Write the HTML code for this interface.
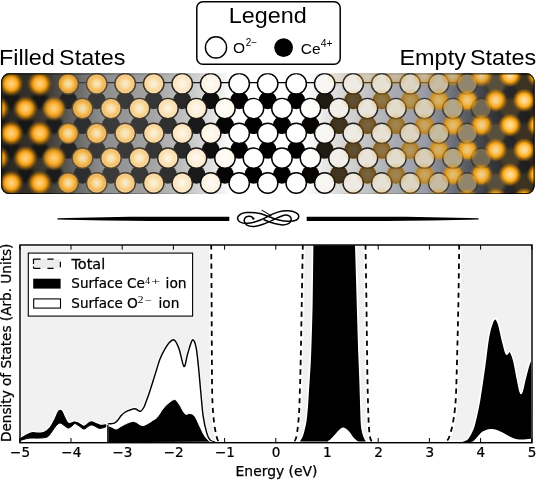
<!DOCTYPE html>
<html><head><meta charset="utf-8"><style>
html,body{margin:0;padding:0;background:#fff;width:536px;height:480px;overflow:hidden}
svg{display:block}
.mpl{font-family:"DejaVu Sans",sans-serif;fill:#000;stroke:#000;stroke-width:0.25px}
.mps{font-family:"Liberation Serif",serif;fill:#000}
.hl{font-family:"Liberation Sans",Arial,sans-serif;fill:#000}
</style></head><body>
<svg width="536" height="480" viewBox="0 0 536 480">
<defs>
<linearGradient id="gapG" x1="0" y1="0" x2="536" y2="0" gradientUnits="userSpaceOnUse"><stop offset="0.0000" stop-color="#2a2824"/><stop offset="0.0560" stop-color="#33302a"/><stop offset="0.0933" stop-color="#423f38"/><stop offset="0.1269" stop-color="#5a5a58"/><stop offset="0.1866" stop-color="#8c8c8c"/><stop offset="0.2799" stop-color="#a2a2a2"/><stop offset="0.3358" stop-color="#bdbdbd"/><stop offset="0.3825" stop-color="#d8d8d8"/><stop offset="0.4328" stop-color="#ffffff"/><stop offset="0.5690" stop-color="#ffffff"/><stop offset="0.6157" stop-color="#e2e2e2"/><stop offset="0.6716" stop-color="#cacaca"/><stop offset="0.7369" stop-color="#a9abb2"/><stop offset="0.7929" stop-color="#999ca6"/><stop offset="0.8396" stop-color="#72757e"/><stop offset="0.8955" stop-color="#44464c"/><stop offset="0.9422" stop-color="#2a2a2e"/><stop offset="1.0000" stop-color="#1a1a1a"/></linearGradient>
<filter id="b6" x="-50%" y="-50%" width="200%" height="200%"><feGaussianBlur stdDeviation="0.6"/></filter><filter id="b12" x="-50%" y="-50%" width="200%" height="200%"><feGaussianBlur stdDeviation="1.2"/></filter><filter id="b18" x="-50%" y="-50%" width="200%" height="200%"><feGaussianBlur stdDeviation="1.8"/></filter><filter id="b24" x="-50%" y="-50%" width="200%" height="200%"><feGaussianBlur stdDeviation="2.4"/></filter>
<radialGradient id="glowO"><stop offset="0" stop-color="#ffecc0"/><stop offset="0.35" stop-color="#ffd070"/><stop offset="0.62" stop-color="#ffa818"/><stop offset="0.8" stop-color="#e89000" stop-opacity="0.55"/><stop offset="1" stop-color="#c07000" stop-opacity="0"/></radialGradient>
<radialGradient id="glowOL"><stop offset="0" stop-color="#ffdc98"/><stop offset="0.3" stop-color="#ffc050"/><stop offset="0.55" stop-color="#ffa410"/><stop offset="0.75" stop-color="#d88600" stop-opacity="0.6"/><stop offset="1" stop-color="#a06000" stop-opacity="0"/></radialGradient>
<linearGradient id="bordG" x1="0" y1="0" x2="536" y2="0" gradientUnits="userSpaceOnUse"><stop offset="0" stop-color="#000" stop-opacity="0.9"/><stop offset="0.12" stop-color="#000" stop-opacity="0.6"/><stop offset="0.3" stop-color="#000" stop-opacity="0.15"/><stop offset="0.4" stop-color="#000" stop-opacity="0"/><stop offset="0.62" stop-color="#000" stop-opacity="0"/><stop offset="0.8" stop-color="#000" stop-opacity="0.3"/><stop offset="0.92" stop-color="#000" stop-opacity="0.7"/><stop offset="1" stop-color="#000" stop-opacity="0.9"/></linearGradient>
<radialGradient id="glowC"><stop offset="0" stop-color="#ffe2a8"/><stop offset="0.3" stop-color="#ffcf70"/><stop offset="0.55" stop-color="#ffac1c"/><stop offset="0.78" stop-color="#e89400" stop-opacity="0.5"/><stop offset="1" stop-color="#c07000" stop-opacity="0"/></radialGradient>
<clipPath id="axclip"><rect x="20.0" y="245.0" width="512.0" height="197.7"/></clipPath><clipPath id="panel"><rect x="1.2" y="73.3" width="533.4" height="120.7" rx="8" ry="8"/></clipPath>
</defs>
<g clip-path="url(#panel)">
<rect x="0" y="60" width="536" height="140" fill="url(#gapG)"/>
<line x1="-17.30" y1="82.65" x2="11.20" y2="82.65" stroke="#1c1c1c" stroke-width="1.2" filter="url(#b24)"/>
<line x1="11.20" y1="82.65" x2="39.70" y2="82.65" stroke="#222222" stroke-width="1.2" filter="url(#b18)"/>
<line x1="39.70" y1="82.65" x2="68.20" y2="82.65" stroke="#303030" stroke-width="1.2" filter="url(#b12)"/>
<line x1="68.20" y1="82.65" x2="96.70" y2="82.65" stroke="#3a3a3a" stroke-width="1.2"/>
<line x1="96.70" y1="82.65" x2="125.20" y2="82.65" stroke="#363636" stroke-width="1.2"/>
<line x1="125.20" y1="82.65" x2="153.70" y2="82.65" stroke="#2d2d2d" stroke-width="1.2"/>
<line x1="153.70" y1="82.65" x2="182.20" y2="82.65" stroke="#222222" stroke-width="1.2"/>
<line x1="182.20" y1="82.65" x2="210.70" y2="82.65" stroke="#141414" stroke-width="1.2"/>
<line x1="210.70" y1="82.65" x2="239.20" y2="82.65" stroke="#040404" stroke-width="1.2"/>
<line x1="239.20" y1="82.65" x2="267.70" y2="82.65" stroke="#000000" stroke-width="1.2"/>
<line x1="267.70" y1="82.65" x2="296.20" y2="82.65" stroke="#000000" stroke-width="1.2"/>
<line x1="296.20" y1="82.65" x2="324.70" y2="82.65" stroke="#030303" stroke-width="1.2"/>
<line x1="324.70" y1="82.65" x2="353.20" y2="82.65" stroke="#131313" stroke-width="1.2"/>
<line x1="353.20" y1="82.65" x2="381.70" y2="82.65" stroke="#242424" stroke-width="1.2"/>
<line x1="381.70" y1="82.65" x2="410.20" y2="82.65" stroke="#323230" stroke-width="1.2"/>
<line x1="410.20" y1="82.65" x2="438.70" y2="82.65" stroke="#3c3a35" stroke-width="1.2"/>
<line x1="438.70" y1="82.65" x2="467.20" y2="82.65" stroke="#3f3a31" stroke-width="1.2"/>
<line x1="467.20" y1="82.65" x2="495.70" y2="82.65" stroke="#3d362b" stroke-width="1.2" filter="url(#b6)"/>
<line x1="495.70" y1="82.65" x2="524.20" y2="82.65" stroke="#362e22" stroke-width="1.2" filter="url(#b12)"/>
<line x1="524.20" y1="82.65" x2="552.70" y2="82.65" stroke="#2a2418" stroke-width="1.2" filter="url(#b18)"/>
<line x1="552.70" y1="82.65" x2="581.20" y2="82.65" stroke="#2a2418" stroke-width="1.2" filter="url(#b18)"/>
<line x1="-3.05" y1="107.45" x2="25.45" y2="107.45" stroke="#1f1f1f" stroke-width="1.2" filter="url(#b18)"/>
<line x1="25.45" y1="107.45" x2="53.95" y2="107.45" stroke="#262626" stroke-width="1.2" filter="url(#b18)"/>
<line x1="53.95" y1="107.45" x2="82.45" y2="107.45" stroke="#3a3a3a" stroke-width="1.2"/>
<line x1="82.45" y1="107.45" x2="110.95" y2="107.45" stroke="#3a3a3a" stroke-width="1.2"/>
<line x1="110.95" y1="107.45" x2="139.45" y2="107.45" stroke="#323232" stroke-width="1.2"/>
<line x1="139.45" y1="107.45" x2="167.95" y2="107.45" stroke="#282828" stroke-width="1.2"/>
<line x1="167.95" y1="107.45" x2="196.45" y2="107.45" stroke="#1b1b1b" stroke-width="1.2"/>
<line x1="196.45" y1="107.45" x2="224.95" y2="107.45" stroke="#0d0d0d" stroke-width="1.2"/>
<line x1="224.95" y1="107.45" x2="253.45" y2="107.45" stroke="#000000" stroke-width="1.2"/>
<line x1="253.45" y1="107.45" x2="281.95" y2="107.45" stroke="#000000" stroke-width="1.2"/>
<line x1="281.95" y1="107.45" x2="310.45" y2="107.45" stroke="#000000" stroke-width="1.2"/>
<line x1="310.45" y1="107.45" x2="338.95" y2="107.45" stroke="#0b0b0b" stroke-width="1.2"/>
<line x1="338.95" y1="107.45" x2="367.45" y2="107.45" stroke="#1c1c1c" stroke-width="1.2"/>
<line x1="367.45" y1="107.45" x2="395.95" y2="107.45" stroke="#2d2d2c" stroke-width="1.2"/>
<line x1="395.95" y1="107.45" x2="424.45" y2="107.45" stroke="#383734" stroke-width="1.2"/>
<line x1="424.45" y1="107.45" x2="452.95" y2="107.45" stroke="#3e3a33" stroke-width="1.2"/>
<line x1="452.95" y1="107.45" x2="481.45" y2="107.45" stroke="#3f392e" stroke-width="1.2" filter="url(#b6)"/>
<line x1="481.45" y1="107.45" x2="509.95" y2="107.45" stroke="#3b3327" stroke-width="1.2" filter="url(#b12)"/>
<line x1="509.95" y1="107.45" x2="538.45" y2="107.45" stroke="#2f291d" stroke-width="1.2" filter="url(#b18)"/>
<line x1="538.45" y1="107.45" x2="566.95" y2="107.45" stroke="#2a2418" stroke-width="1.2" filter="url(#b18)"/>
<line x1="566.95" y1="107.45" x2="595.45" y2="107.45" stroke="#2a2418" stroke-width="1.2" filter="url(#b18)"/>
<line x1="-17.30" y1="132.25" x2="11.20" y2="132.25" stroke="#1c1c1c" stroke-width="1.2" filter="url(#b24)"/>
<line x1="11.20" y1="132.25" x2="39.70" y2="132.25" stroke="#222222" stroke-width="1.2" filter="url(#b18)"/>
<line x1="39.70" y1="132.25" x2="68.20" y2="132.25" stroke="#303030" stroke-width="1.2" filter="url(#b12)"/>
<line x1="68.20" y1="132.25" x2="96.70" y2="132.25" stroke="#3a3a3a" stroke-width="1.2"/>
<line x1="96.70" y1="132.25" x2="125.20" y2="132.25" stroke="#363636" stroke-width="1.2"/>
<line x1="125.20" y1="132.25" x2="153.70" y2="132.25" stroke="#2d2d2d" stroke-width="1.2"/>
<line x1="153.70" y1="132.25" x2="182.20" y2="132.25" stroke="#222222" stroke-width="1.2"/>
<line x1="182.20" y1="132.25" x2="210.70" y2="132.25" stroke="#141414" stroke-width="1.2"/>
<line x1="210.70" y1="132.25" x2="239.20" y2="132.25" stroke="#040404" stroke-width="1.2"/>
<line x1="239.20" y1="132.25" x2="267.70" y2="132.25" stroke="#000000" stroke-width="1.2"/>
<line x1="267.70" y1="132.25" x2="296.20" y2="132.25" stroke="#000000" stroke-width="1.2"/>
<line x1="296.20" y1="132.25" x2="324.70" y2="132.25" stroke="#030303" stroke-width="1.2"/>
<line x1="324.70" y1="132.25" x2="353.20" y2="132.25" stroke="#131313" stroke-width="1.2"/>
<line x1="353.20" y1="132.25" x2="381.70" y2="132.25" stroke="#242424" stroke-width="1.2"/>
<line x1="381.70" y1="132.25" x2="410.20" y2="132.25" stroke="#323230" stroke-width="1.2"/>
<line x1="410.20" y1="132.25" x2="438.70" y2="132.25" stroke="#3c3a35" stroke-width="1.2"/>
<line x1="438.70" y1="132.25" x2="467.20" y2="132.25" stroke="#3f3a31" stroke-width="1.2"/>
<line x1="467.20" y1="132.25" x2="495.70" y2="132.25" stroke="#3d362b" stroke-width="1.2" filter="url(#b6)"/>
<line x1="495.70" y1="132.25" x2="524.20" y2="132.25" stroke="#362e22" stroke-width="1.2" filter="url(#b12)"/>
<line x1="524.20" y1="132.25" x2="552.70" y2="132.25" stroke="#2a2418" stroke-width="1.2" filter="url(#b18)"/>
<line x1="552.70" y1="132.25" x2="581.20" y2="132.25" stroke="#2a2418" stroke-width="1.2" filter="url(#b18)"/>
<line x1="-3.05" y1="157.05" x2="25.45" y2="157.05" stroke="#1f1f1f" stroke-width="1.2" filter="url(#b18)"/>
<line x1="25.45" y1="157.05" x2="53.95" y2="157.05" stroke="#262626" stroke-width="1.2" filter="url(#b18)"/>
<line x1="53.95" y1="157.05" x2="82.45" y2="157.05" stroke="#3a3a3a" stroke-width="1.2"/>
<line x1="82.45" y1="157.05" x2="110.95" y2="157.05" stroke="#3a3a3a" stroke-width="1.2"/>
<line x1="110.95" y1="157.05" x2="139.45" y2="157.05" stroke="#323232" stroke-width="1.2"/>
<line x1="139.45" y1="157.05" x2="167.95" y2="157.05" stroke="#282828" stroke-width="1.2"/>
<line x1="167.95" y1="157.05" x2="196.45" y2="157.05" stroke="#1b1b1b" stroke-width="1.2"/>
<line x1="196.45" y1="157.05" x2="224.95" y2="157.05" stroke="#0d0d0d" stroke-width="1.2"/>
<line x1="224.95" y1="157.05" x2="253.45" y2="157.05" stroke="#000000" stroke-width="1.2"/>
<line x1="253.45" y1="157.05" x2="281.95" y2="157.05" stroke="#000000" stroke-width="1.2"/>
<line x1="281.95" y1="157.05" x2="310.45" y2="157.05" stroke="#000000" stroke-width="1.2"/>
<line x1="310.45" y1="157.05" x2="338.95" y2="157.05" stroke="#0b0b0b" stroke-width="1.2"/>
<line x1="338.95" y1="157.05" x2="367.45" y2="157.05" stroke="#1c1c1c" stroke-width="1.2"/>
<line x1="367.45" y1="157.05" x2="395.95" y2="157.05" stroke="#2d2d2c" stroke-width="1.2"/>
<line x1="395.95" y1="157.05" x2="424.45" y2="157.05" stroke="#383734" stroke-width="1.2"/>
<line x1="424.45" y1="157.05" x2="452.95" y2="157.05" stroke="#3e3a33" stroke-width="1.2"/>
<line x1="452.95" y1="157.05" x2="481.45" y2="157.05" stroke="#3f392e" stroke-width="1.2" filter="url(#b6)"/>
<line x1="481.45" y1="157.05" x2="509.95" y2="157.05" stroke="#3b3327" stroke-width="1.2" filter="url(#b12)"/>
<line x1="509.95" y1="157.05" x2="538.45" y2="157.05" stroke="#2f291d" stroke-width="1.2" filter="url(#b18)"/>
<line x1="538.45" y1="157.05" x2="566.95" y2="157.05" stroke="#2a2418" stroke-width="1.2" filter="url(#b18)"/>
<line x1="566.95" y1="157.05" x2="595.45" y2="157.05" stroke="#2a2418" stroke-width="1.2" filter="url(#b18)"/>
<line x1="-17.30" y1="181.85" x2="11.20" y2="181.85" stroke="#1c1c1c" stroke-width="1.2" filter="url(#b24)"/>
<line x1="11.20" y1="181.85" x2="39.70" y2="181.85" stroke="#222222" stroke-width="1.2" filter="url(#b18)"/>
<line x1="39.70" y1="181.85" x2="68.20" y2="181.85" stroke="#303030" stroke-width="1.2" filter="url(#b12)"/>
<line x1="68.20" y1="181.85" x2="96.70" y2="181.85" stroke="#3a3a3a" stroke-width="1.2"/>
<line x1="96.70" y1="181.85" x2="125.20" y2="181.85" stroke="#363636" stroke-width="1.2"/>
<line x1="125.20" y1="181.85" x2="153.70" y2="181.85" stroke="#2d2d2d" stroke-width="1.2"/>
<line x1="153.70" y1="181.85" x2="182.20" y2="181.85" stroke="#222222" stroke-width="1.2"/>
<line x1="182.20" y1="181.85" x2="210.70" y2="181.85" stroke="#141414" stroke-width="1.2"/>
<line x1="210.70" y1="181.85" x2="239.20" y2="181.85" stroke="#040404" stroke-width="1.2"/>
<line x1="239.20" y1="181.85" x2="267.70" y2="181.85" stroke="#000000" stroke-width="1.2"/>
<line x1="267.70" y1="181.85" x2="296.20" y2="181.85" stroke="#000000" stroke-width="1.2"/>
<line x1="296.20" y1="181.85" x2="324.70" y2="181.85" stroke="#030303" stroke-width="1.2"/>
<line x1="324.70" y1="181.85" x2="353.20" y2="181.85" stroke="#131313" stroke-width="1.2"/>
<line x1="353.20" y1="181.85" x2="381.70" y2="181.85" stroke="#242424" stroke-width="1.2"/>
<line x1="381.70" y1="181.85" x2="410.20" y2="181.85" stroke="#323230" stroke-width="1.2"/>
<line x1="410.20" y1="181.85" x2="438.70" y2="181.85" stroke="#3c3a35" stroke-width="1.2"/>
<line x1="438.70" y1="181.85" x2="467.20" y2="181.85" stroke="#3f3a31" stroke-width="1.2"/>
<line x1="467.20" y1="181.85" x2="495.70" y2="181.85" stroke="#3d362b" stroke-width="1.2" filter="url(#b6)"/>
<line x1="495.70" y1="181.85" x2="524.20" y2="181.85" stroke="#362e22" stroke-width="1.2" filter="url(#b12)"/>
<line x1="524.20" y1="181.85" x2="552.70" y2="181.85" stroke="#2a2418" stroke-width="1.2" filter="url(#b18)"/>
<line x1="552.70" y1="181.85" x2="581.20" y2="181.85" stroke="#2a2418" stroke-width="1.2" filter="url(#b18)"/>
<circle cx="-17.30" cy="100.25" r="9" fill="#121212" filter="url(#b24)"/>
<circle cx="11.20" cy="100.25" r="9" fill="#131313" filter="url(#b18)"/>
<circle cx="39.70" cy="100.25" r="9" fill="#161616" filter="url(#b18)"/>
<circle cx="68.20" cy="100.25" r="9" fill="#242424"/>
<circle cx="96.70" cy="100.25" r="9" fill="#383838"/>
<circle cx="125.20" cy="100.25" r="9" fill="#393939"/>
<circle cx="153.70" cy="100.25" r="9" fill="#363636"/>
<circle cx="182.20" cy="100.25" r="9" fill="#282828"/>
<circle cx="210.70" cy="100.25" r="9" fill="#0e0e0e"/>
<circle cx="239.20" cy="100.25" r="9" fill="#000000"/>
<circle cx="267.70" cy="100.25" r="9" fill="#000000"/>
<circle cx="296.20" cy="100.25" r="9" fill="#000000"/>
<circle cx="324.70" cy="100.25" r="9" fill="#191510"/>
<circle cx="353.20" cy="100.25" r="9" fill="#3a3020"/>
<circle cx="381.70" cy="100.25" r="9" fill="#645030"/>
<circle cx="410.20" cy="100.25" r="9" fill="#896f40"/>
<circle cx="438.70" cy="100.25" r="9" fill="#ae8940"/>
<circle cx="467.20" cy="100.25" r="9" fill="#bf8a31" filter="url(#b6)"/>
<circle cx="495.70" cy="100.25" r="9" fill="#886124" filter="url(#b12)"/>
<circle cx="524.20" cy="100.25" r="9" fill="#4a3316" filter="url(#b18)"/>
<circle cx="552.70" cy="100.25" r="9" fill="#302010" filter="url(#b18)"/>
<circle cx="-3.05" cy="125.05" r="9" fill="#121212" filter="url(#b24)"/>
<circle cx="25.45" cy="125.05" r="9" fill="#151515" filter="url(#b18)"/>
<circle cx="53.95" cy="125.05" r="9" fill="#1d1d1d" filter="url(#b12)"/>
<circle cx="82.45" cy="125.05" r="9" fill="#2e2e2e"/>
<circle cx="110.95" cy="125.05" r="9" fill="#3a3a3a"/>
<circle cx="139.45" cy="125.05" r="9" fill="#383838"/>
<circle cx="167.95" cy="125.05" r="9" fill="#303030"/>
<circle cx="196.45" cy="125.05" r="9" fill="#1a1a1a"/>
<circle cx="224.95" cy="125.05" r="9" fill="#050505"/>
<circle cx="253.45" cy="125.05" r="9" fill="#000000"/>
<circle cx="281.95" cy="125.05" r="9" fill="#000000"/>
<circle cx="310.45" cy="125.05" r="9" fill="#070605"/>
<circle cx="338.95" cy="125.05" r="9" fill="#2a2218"/>
<circle cx="367.45" cy="125.05" r="9" fill="#4f4028"/>
<circle cx="395.95" cy="125.05" r="9" fill="#765f38"/>
<circle cx="424.45" cy="125.05" r="9" fill="#9c7c40"/>
<circle cx="452.95" cy="125.05" r="9" fill="#b78a39"/>
<circle cx="481.45" cy="125.05" r="9" fill="#a7782a" filter="url(#b6)"/>
<circle cx="509.95" cy="125.05" r="9" fill="#694a1d" filter="url(#b12)"/>
<circle cx="538.45" cy="125.05" r="9" fill="#302010" filter="url(#b18)"/>
<circle cx="566.95" cy="125.05" r="9" fill="#302010" filter="url(#b18)"/>
<circle cx="-17.30" cy="149.85" r="9" fill="#121212" filter="url(#b24)"/>
<circle cx="11.20" cy="149.85" r="9" fill="#131313" filter="url(#b18)"/>
<circle cx="39.70" cy="149.85" r="9" fill="#161616" filter="url(#b18)"/>
<circle cx="68.20" cy="149.85" r="9" fill="#242424"/>
<circle cx="96.70" cy="149.85" r="9" fill="#383838"/>
<circle cx="125.20" cy="149.85" r="9" fill="#393939"/>
<circle cx="153.70" cy="149.85" r="9" fill="#363636"/>
<circle cx="182.20" cy="149.85" r="9" fill="#282828"/>
<circle cx="210.70" cy="149.85" r="9" fill="#0e0e0e"/>
<circle cx="239.20" cy="149.85" r="9" fill="#000000"/>
<circle cx="267.70" cy="149.85" r="9" fill="#000000"/>
<circle cx="296.20" cy="149.85" r="9" fill="#000000"/>
<circle cx="324.70" cy="149.85" r="9" fill="#191510"/>
<circle cx="353.20" cy="149.85" r="9" fill="#3a3020"/>
<circle cx="381.70" cy="149.85" r="9" fill="#645030"/>
<circle cx="410.20" cy="149.85" r="9" fill="#896f40"/>
<circle cx="438.70" cy="149.85" r="9" fill="#ae8940"/>
<circle cx="467.20" cy="149.85" r="9" fill="#bf8a31" filter="url(#b6)"/>
<circle cx="495.70" cy="149.85" r="9" fill="#886124" filter="url(#b12)"/>
<circle cx="524.20" cy="149.85" r="9" fill="#4a3316" filter="url(#b18)"/>
<circle cx="552.70" cy="149.85" r="9" fill="#302010" filter="url(#b18)"/>
<circle cx="-3.05" cy="174.65" r="9" fill="#121212" filter="url(#b24)"/>
<circle cx="25.45" cy="174.65" r="9" fill="#151515" filter="url(#b18)"/>
<circle cx="53.95" cy="174.65" r="9" fill="#1d1d1d" filter="url(#b12)"/>
<circle cx="82.45" cy="174.65" r="9" fill="#2e2e2e"/>
<circle cx="110.95" cy="174.65" r="9" fill="#3a3a3a"/>
<circle cx="139.45" cy="174.65" r="9" fill="#383838"/>
<circle cx="167.95" cy="174.65" r="9" fill="#303030"/>
<circle cx="196.45" cy="174.65" r="9" fill="#1a1a1a"/>
<circle cx="224.95" cy="174.65" r="9" fill="#050505"/>
<circle cx="253.45" cy="174.65" r="9" fill="#000000"/>
<circle cx="281.95" cy="174.65" r="9" fill="#000000"/>
<circle cx="310.45" cy="174.65" r="9" fill="#070605"/>
<circle cx="338.95" cy="174.65" r="9" fill="#2a2218"/>
<circle cx="367.45" cy="174.65" r="9" fill="#4f4028"/>
<circle cx="395.95" cy="174.65" r="9" fill="#765f38"/>
<circle cx="424.45" cy="174.65" r="9" fill="#9c7c40"/>
<circle cx="452.95" cy="174.65" r="9" fill="#b78a39"/>
<circle cx="481.45" cy="174.65" r="9" fill="#a7782a" filter="url(#b6)"/>
<circle cx="509.95" cy="174.65" r="9" fill="#694a1d" filter="url(#b12)"/>
<circle cx="538.45" cy="174.65" r="9" fill="#302010" filter="url(#b18)"/>
<circle cx="566.95" cy="174.65" r="9" fill="#302010" filter="url(#b18)"/>
<circle cx="-17.30" cy="83.75" r="10.2" fill="#1c1c1c" stroke="#1c1c1c" stroke-width="1.45" filter="url(#b24)"/>
<circle cx="11.20" cy="83.75" r="10.2" fill="#222222" stroke="#1f1f1f" stroke-width="1.45" filter="url(#b18)"/>
<circle cx="39.70" cy="83.75" r="10.2" fill="#303030" stroke="#262626" stroke-width="1.45" filter="url(#b18)"/>
<circle cx="68.20" cy="83.75" r="10.2" fill="#b0b0b0" stroke="#3a3a3a" stroke-width="1.45"/>
<circle cx="96.70" cy="83.75" r="10.2" fill="#e2e2e2" stroke="#3a3a3a" stroke-width="1.45"/>
<circle cx="125.20" cy="83.75" r="10.2" fill="#f0f0f0" stroke="#323232" stroke-width="1.45"/>
<circle cx="153.70" cy="83.75" r="10.2" fill="#f8f8f8" stroke="#282828" stroke-width="1.45"/>
<circle cx="182.20" cy="83.75" r="10.2" fill="#fbfbfb" stroke="#1b1b1b" stroke-width="1.45"/>
<circle cx="210.70" cy="83.75" r="10.2" fill="#fdfdfd" stroke="#0d0d0d" stroke-width="1.45"/>
<circle cx="239.20" cy="83.75" r="10.2" fill="#ffffff" stroke="#000000" stroke-width="1.45"/>
<circle cx="267.70" cy="83.75" r="10.2" fill="#ffffff" stroke="#000000" stroke-width="1.45"/>
<circle cx="296.20" cy="83.75" r="10.2" fill="#ffffff" stroke="#000000" stroke-width="1.45"/>
<circle cx="324.70" cy="83.75" r="10.2" fill="#f8f6f3" stroke="#0b0b0b" stroke-width="1.45"/>
<circle cx="353.20" cy="83.75" r="10.2" fill="#eeebe4" stroke="#1c1c1c" stroke-width="1.45"/>
<circle cx="381.70" cy="83.75" r="10.2" fill="#e6e1d4" stroke="#2d2d2c" stroke-width="1.45"/>
<circle cx="410.20" cy="83.75" r="10.2" fill="#ddd5c3" stroke="#383734" stroke-width="1.45"/>
<circle cx="438.70" cy="83.75" r="10.2" fill="#c6bba3" stroke="#3e3a33" stroke-width="1.45"/>
<circle cx="467.20" cy="83.75" r="10.2" fill="#90866f" stroke="#3f392e" stroke-width="1.45" filter="url(#b6)"/>
<circle cx="495.70" cy="83.75" r="10.2" fill="#574f3d" stroke="#3b3327" stroke-width="1.45" filter="url(#b12)"/>
<circle cx="524.20" cy="83.75" r="10.2" fill="#3a3121" stroke="#2f291d" stroke-width="1.45" filter="url(#b18)"/>
<circle cx="552.70" cy="83.75" r="10.2" fill="#30281a" stroke="#2a2418" stroke-width="1.45" filter="url(#b18)"/>
<circle cx="-3.05" cy="108.55" r="10.2" fill="#1c1c1c" stroke="#1c1c1c" stroke-width="1.45" filter="url(#b24)"/>
<circle cx="25.45" cy="108.55" r="10.2" fill="#292929" stroke="#222222" stroke-width="1.45" filter="url(#b18)"/>
<circle cx="53.95" cy="108.55" r="10.2" fill="#707070" stroke="#303030" stroke-width="1.45" filter="url(#b12)"/>
<circle cx="82.45" cy="108.55" r="10.2" fill="#c9c9c9" stroke="#3a3a3a" stroke-width="1.45"/>
<circle cx="110.95" cy="108.55" r="10.2" fill="#ececec" stroke="#363636" stroke-width="1.45"/>
<circle cx="139.45" cy="108.55" r="10.2" fill="#f5f5f5" stroke="#2d2d2d" stroke-width="1.45"/>
<circle cx="167.95" cy="108.55" r="10.2" fill="#fafafa" stroke="#222222" stroke-width="1.45"/>
<circle cx="196.45" cy="108.55" r="10.2" fill="#fcfcfc" stroke="#141414" stroke-width="1.45"/>
<circle cx="224.95" cy="108.55" r="10.2" fill="#fefefe" stroke="#040404" stroke-width="1.45"/>
<circle cx="253.45" cy="108.55" r="10.2" fill="#ffffff" stroke="#000000" stroke-width="1.45"/>
<circle cx="281.95" cy="108.55" r="10.2" fill="#ffffff" stroke="#000000" stroke-width="1.45"/>
<circle cx="310.45" cy="108.55" r="10.2" fill="#fdfdfc" stroke="#030303" stroke-width="1.45"/>
<circle cx="338.95" cy="108.55" r="10.2" fill="#f3f0eb" stroke="#131313" stroke-width="1.45"/>
<circle cx="367.45" cy="108.55" r="10.2" fill="#eae5dc" stroke="#242424" stroke-width="1.45"/>
<circle cx="395.95" cy="108.55" r="10.2" fill="#e2dccb" stroke="#323230" stroke-width="1.45"/>
<circle cx="424.45" cy="108.55" r="10.2" fill="#d8cfba" stroke="#3c3a35" stroke-width="1.45"/>
<circle cx="452.95" cy="108.55" r="10.2" fill="#b1a58a" stroke="#3f3a31" stroke-width="1.45"/>
<circle cx="481.45" cy="108.55" r="10.2" fill="#716854" stroke="#3d362b" stroke-width="1.45" filter="url(#b6)"/>
<circle cx="509.95" cy="108.55" r="10.2" fill="#463c2a" stroke="#362e22" stroke-width="1.45" filter="url(#b12)"/>
<circle cx="538.45" cy="108.55" r="10.2" fill="#30281a" stroke="#2a2418" stroke-width="1.45" filter="url(#b18)"/>
<circle cx="566.95" cy="108.55" r="10.2" fill="#30281a" stroke="#2a2418" stroke-width="1.45" filter="url(#b18)"/>
<circle cx="-17.30" cy="133.35" r="10.2" fill="#1c1c1c" stroke="#1c1c1c" stroke-width="1.45" filter="url(#b24)"/>
<circle cx="11.20" cy="133.35" r="10.2" fill="#222222" stroke="#1f1f1f" stroke-width="1.45" filter="url(#b18)"/>
<circle cx="39.70" cy="133.35" r="10.2" fill="#303030" stroke="#262626" stroke-width="1.45" filter="url(#b18)"/>
<circle cx="68.20" cy="133.35" r="10.2" fill="#b0b0b0" stroke="#3a3a3a" stroke-width="1.45"/>
<circle cx="96.70" cy="133.35" r="10.2" fill="#e2e2e2" stroke="#3a3a3a" stroke-width="1.45"/>
<circle cx="125.20" cy="133.35" r="10.2" fill="#f0f0f0" stroke="#323232" stroke-width="1.45"/>
<circle cx="153.70" cy="133.35" r="10.2" fill="#f8f8f8" stroke="#282828" stroke-width="1.45"/>
<circle cx="182.20" cy="133.35" r="10.2" fill="#fbfbfb" stroke="#1b1b1b" stroke-width="1.45"/>
<circle cx="210.70" cy="133.35" r="10.2" fill="#fdfdfd" stroke="#0d0d0d" stroke-width="1.45"/>
<circle cx="239.20" cy="133.35" r="10.2" fill="#ffffff" stroke="#000000" stroke-width="1.45"/>
<circle cx="267.70" cy="133.35" r="10.2" fill="#ffffff" stroke="#000000" stroke-width="1.45"/>
<circle cx="296.20" cy="133.35" r="10.2" fill="#ffffff" stroke="#000000" stroke-width="1.45"/>
<circle cx="324.70" cy="133.35" r="10.2" fill="#f8f6f3" stroke="#0b0b0b" stroke-width="1.45"/>
<circle cx="353.20" cy="133.35" r="10.2" fill="#eeebe4" stroke="#1c1c1c" stroke-width="1.45"/>
<circle cx="381.70" cy="133.35" r="10.2" fill="#e6e1d4" stroke="#2d2d2c" stroke-width="1.45"/>
<circle cx="410.20" cy="133.35" r="10.2" fill="#ddd5c3" stroke="#383734" stroke-width="1.45"/>
<circle cx="438.70" cy="133.35" r="10.2" fill="#c6bba3" stroke="#3e3a33" stroke-width="1.45"/>
<circle cx="467.20" cy="133.35" r="10.2" fill="#90866f" stroke="#3f392e" stroke-width="1.45" filter="url(#b6)"/>
<circle cx="495.70" cy="133.35" r="10.2" fill="#574f3d" stroke="#3b3327" stroke-width="1.45" filter="url(#b12)"/>
<circle cx="524.20" cy="133.35" r="10.2" fill="#3a3121" stroke="#2f291d" stroke-width="1.45" filter="url(#b18)"/>
<circle cx="552.70" cy="133.35" r="10.2" fill="#30281a" stroke="#2a2418" stroke-width="1.45" filter="url(#b18)"/>
<circle cx="-3.05" cy="158.15" r="10.2" fill="#1c1c1c" stroke="#1c1c1c" stroke-width="1.45" filter="url(#b24)"/>
<circle cx="25.45" cy="158.15" r="10.2" fill="#292929" stroke="#222222" stroke-width="1.45" filter="url(#b18)"/>
<circle cx="53.95" cy="158.15" r="10.2" fill="#707070" stroke="#303030" stroke-width="1.45" filter="url(#b12)"/>
<circle cx="82.45" cy="158.15" r="10.2" fill="#c9c9c9" stroke="#3a3a3a" stroke-width="1.45"/>
<circle cx="110.95" cy="158.15" r="10.2" fill="#ececec" stroke="#363636" stroke-width="1.45"/>
<circle cx="139.45" cy="158.15" r="10.2" fill="#f5f5f5" stroke="#2d2d2d" stroke-width="1.45"/>
<circle cx="167.95" cy="158.15" r="10.2" fill="#fafafa" stroke="#222222" stroke-width="1.45"/>
<circle cx="196.45" cy="158.15" r="10.2" fill="#fcfcfc" stroke="#141414" stroke-width="1.45"/>
<circle cx="224.95" cy="158.15" r="10.2" fill="#fefefe" stroke="#040404" stroke-width="1.45"/>
<circle cx="253.45" cy="158.15" r="10.2" fill="#ffffff" stroke="#000000" stroke-width="1.45"/>
<circle cx="281.95" cy="158.15" r="10.2" fill="#ffffff" stroke="#000000" stroke-width="1.45"/>
<circle cx="310.45" cy="158.15" r="10.2" fill="#fdfdfc" stroke="#030303" stroke-width="1.45"/>
<circle cx="338.95" cy="158.15" r="10.2" fill="#f3f0eb" stroke="#131313" stroke-width="1.45"/>
<circle cx="367.45" cy="158.15" r="10.2" fill="#eae5dc" stroke="#242424" stroke-width="1.45"/>
<circle cx="395.95" cy="158.15" r="10.2" fill="#e2dccb" stroke="#323230" stroke-width="1.45"/>
<circle cx="424.45" cy="158.15" r="10.2" fill="#d8cfba" stroke="#3c3a35" stroke-width="1.45"/>
<circle cx="452.95" cy="158.15" r="10.2" fill="#b1a58a" stroke="#3f3a31" stroke-width="1.45"/>
<circle cx="481.45" cy="158.15" r="10.2" fill="#716854" stroke="#3d362b" stroke-width="1.45" filter="url(#b6)"/>
<circle cx="509.95" cy="158.15" r="10.2" fill="#463c2a" stroke="#362e22" stroke-width="1.45" filter="url(#b12)"/>
<circle cx="538.45" cy="158.15" r="10.2" fill="#30281a" stroke="#2a2418" stroke-width="1.45" filter="url(#b18)"/>
<circle cx="566.95" cy="158.15" r="10.2" fill="#30281a" stroke="#2a2418" stroke-width="1.45" filter="url(#b18)"/>
<circle cx="-17.30" cy="182.95" r="10.2" fill="#1c1c1c" stroke="#1c1c1c" stroke-width="1.45" filter="url(#b24)"/>
<circle cx="11.20" cy="182.95" r="10.2" fill="#222222" stroke="#1f1f1f" stroke-width="1.45" filter="url(#b18)"/>
<circle cx="39.70" cy="182.95" r="10.2" fill="#303030" stroke="#262626" stroke-width="1.45" filter="url(#b18)"/>
<circle cx="68.20" cy="182.95" r="10.2" fill="#b0b0b0" stroke="#3a3a3a" stroke-width="1.45"/>
<circle cx="96.70" cy="182.95" r="10.2" fill="#e2e2e2" stroke="#3a3a3a" stroke-width="1.45"/>
<circle cx="125.20" cy="182.95" r="10.2" fill="#f0f0f0" stroke="#323232" stroke-width="1.45"/>
<circle cx="153.70" cy="182.95" r="10.2" fill="#f8f8f8" stroke="#282828" stroke-width="1.45"/>
<circle cx="182.20" cy="182.95" r="10.2" fill="#fbfbfb" stroke="#1b1b1b" stroke-width="1.45"/>
<circle cx="210.70" cy="182.95" r="10.2" fill="#fdfdfd" stroke="#0d0d0d" stroke-width="1.45"/>
<circle cx="239.20" cy="182.95" r="10.2" fill="#ffffff" stroke="#000000" stroke-width="1.45"/>
<circle cx="267.70" cy="182.95" r="10.2" fill="#ffffff" stroke="#000000" stroke-width="1.45"/>
<circle cx="296.20" cy="182.95" r="10.2" fill="#ffffff" stroke="#000000" stroke-width="1.45"/>
<circle cx="324.70" cy="182.95" r="10.2" fill="#f8f6f3" stroke="#0b0b0b" stroke-width="1.45"/>
<circle cx="353.20" cy="182.95" r="10.2" fill="#eeebe4" stroke="#1c1c1c" stroke-width="1.45"/>
<circle cx="381.70" cy="182.95" r="10.2" fill="#e6e1d4" stroke="#2d2d2c" stroke-width="1.45"/>
<circle cx="410.20" cy="182.95" r="10.2" fill="#ddd5c3" stroke="#383734" stroke-width="1.45"/>
<circle cx="438.70" cy="182.95" r="10.2" fill="#c6bba3" stroke="#3e3a33" stroke-width="1.45"/>
<circle cx="467.20" cy="182.95" r="10.2" fill="#90866f" stroke="#3f392e" stroke-width="1.45" filter="url(#b6)"/>
<circle cx="495.70" cy="182.95" r="10.2" fill="#574f3d" stroke="#3b3327" stroke-width="1.45" filter="url(#b12)"/>
<circle cx="524.20" cy="182.95" r="10.2" fill="#3a3121" stroke="#2f291d" stroke-width="1.45" filter="url(#b18)"/>
<circle cx="552.70" cy="182.95" r="10.2" fill="#30281a" stroke="#2a2418" stroke-width="1.45" filter="url(#b18)"/>
<circle cx="-17.30" cy="83.75" r="12.5" fill="url(#glowOL)" opacity="1.000" filter="url(#b12)"/>
<circle cx="11.20" cy="83.75" r="12.5" fill="url(#glowOL)" opacity="1.000" filter="url(#b12)"/>
<circle cx="39.70" cy="83.75" r="12.5" fill="url(#glowOL)" opacity="1.000" filter="url(#b12)"/>
<circle cx="68.20" cy="83.75" r="11.5" fill="url(#glowO)" opacity="0.891"/>
<circle cx="96.70" cy="83.75" r="11.5" fill="url(#glowO)" opacity="0.720"/>
<circle cx="125.20" cy="83.75" r="11.5" fill="url(#glowO)" opacity="0.574"/>
<circle cx="153.70" cy="83.75" r="11.5" fill="url(#glowO)" opacity="0.429"/>
<circle cx="182.20" cy="83.75" r="11.5" fill="url(#glowO)" opacity="0.268"/>
<circle cx="210.70" cy="83.75" r="11.5" fill="url(#glowO)" opacity="0.117"/>
<circle cx="239.20" cy="83.75" r="11.5" fill="url(#glowO)" opacity="0.015"/>
<circle cx="-3.05" cy="108.55" r="12.5" fill="url(#glowOL)" opacity="1.000" filter="url(#b12)"/>
<circle cx="25.45" cy="108.55" r="12.5" fill="url(#glowOL)" opacity="1.000" filter="url(#b12)"/>
<circle cx="53.95" cy="108.55" r="12.5" fill="url(#glowOL)" opacity="0.976" filter="url(#b12)"/>
<circle cx="82.45" cy="108.55" r="11.5" fill="url(#glowO)" opacity="0.805"/>
<circle cx="110.95" cy="108.55" r="11.5" fill="url(#glowO)" opacity="0.645"/>
<circle cx="139.45" cy="108.55" r="11.5" fill="url(#glowO)" opacity="0.503"/>
<circle cx="167.95" cy="108.55" r="11.5" fill="url(#glowO)" opacity="0.348"/>
<circle cx="196.45" cy="108.55" r="11.5" fill="url(#glowO)" opacity="0.188"/>
<circle cx="224.95" cy="108.55" r="11.5" fill="url(#glowO)" opacity="0.060"/>
<circle cx="-17.30" cy="133.35" r="12.5" fill="url(#glowOL)" opacity="1.000" filter="url(#b12)"/>
<circle cx="11.20" cy="133.35" r="12.5" fill="url(#glowOL)" opacity="1.000" filter="url(#b12)"/>
<circle cx="39.70" cy="133.35" r="12.5" fill="url(#glowOL)" opacity="1.000" filter="url(#b12)"/>
<circle cx="68.20" cy="133.35" r="11.5" fill="url(#glowO)" opacity="0.891"/>
<circle cx="96.70" cy="133.35" r="11.5" fill="url(#glowO)" opacity="0.720"/>
<circle cx="125.20" cy="133.35" r="11.5" fill="url(#glowO)" opacity="0.574"/>
<circle cx="153.70" cy="133.35" r="11.5" fill="url(#glowO)" opacity="0.429"/>
<circle cx="182.20" cy="133.35" r="11.5" fill="url(#glowO)" opacity="0.268"/>
<circle cx="210.70" cy="133.35" r="11.5" fill="url(#glowO)" opacity="0.117"/>
<circle cx="239.20" cy="133.35" r="11.5" fill="url(#glowO)" opacity="0.015"/>
<circle cx="-3.05" cy="158.15" r="12.5" fill="url(#glowOL)" opacity="1.000" filter="url(#b12)"/>
<circle cx="25.45" cy="158.15" r="12.5" fill="url(#glowOL)" opacity="1.000" filter="url(#b12)"/>
<circle cx="53.95" cy="158.15" r="12.5" fill="url(#glowOL)" opacity="0.976" filter="url(#b12)"/>
<circle cx="82.45" cy="158.15" r="11.5" fill="url(#glowO)" opacity="0.805"/>
<circle cx="110.95" cy="158.15" r="11.5" fill="url(#glowO)" opacity="0.645"/>
<circle cx="139.45" cy="158.15" r="11.5" fill="url(#glowO)" opacity="0.503"/>
<circle cx="167.95" cy="158.15" r="11.5" fill="url(#glowO)" opacity="0.348"/>
<circle cx="196.45" cy="158.15" r="11.5" fill="url(#glowO)" opacity="0.188"/>
<circle cx="224.95" cy="158.15" r="11.5" fill="url(#glowO)" opacity="0.060"/>
<circle cx="-17.30" cy="182.95" r="12.5" fill="url(#glowOL)" opacity="1.000" filter="url(#b12)"/>
<circle cx="11.20" cy="182.95" r="12.5" fill="url(#glowOL)" opacity="1.000" filter="url(#b12)"/>
<circle cx="39.70" cy="182.95" r="12.5" fill="url(#glowOL)" opacity="1.000" filter="url(#b12)"/>
<circle cx="68.20" cy="182.95" r="11.5" fill="url(#glowO)" opacity="0.891"/>
<circle cx="96.70" cy="182.95" r="11.5" fill="url(#glowO)" opacity="0.720"/>
<circle cx="125.20" cy="182.95" r="11.5" fill="url(#glowO)" opacity="0.574"/>
<circle cx="153.70" cy="182.95" r="11.5" fill="url(#glowO)" opacity="0.429"/>
<circle cx="182.20" cy="182.95" r="11.5" fill="url(#glowO)" opacity="0.268"/>
<circle cx="210.70" cy="182.95" r="11.5" fill="url(#glowO)" opacity="0.117"/>
<circle cx="239.20" cy="182.95" r="11.5" fill="url(#glowO)" opacity="0.015"/>
<circle cx="338.95" cy="75.45" r="12" fill="url(#glowC)" opacity="0.114"/>
<circle cx="367.45" cy="75.45" r="12" fill="url(#glowC)" opacity="0.229"/>
<circle cx="395.95" cy="75.45" r="12" fill="url(#glowC)" opacity="0.309"/>
<circle cx="424.45" cy="75.45" r="12" fill="url(#glowC)" opacity="0.430"/>
<circle cx="452.95" cy="75.45" r="12" fill="url(#glowC)" opacity="0.614"/>
<circle cx="481.45" cy="75.45" r="12" fill="url(#glowC)" opacity="0.852"/>
<circle cx="509.95" cy="75.45" r="12" fill="url(#glowC)" opacity="1.000"/>
<circle cx="538.45" cy="75.45" r="12" fill="url(#glowC)" opacity="1.000"/>
<circle cx="566.95" cy="75.45" r="12" fill="url(#glowC)" opacity="1.000"/>
<circle cx="324.70" cy="100.25" r="12" fill="url(#glowC)" opacity="0.028"/>
<circle cx="353.20" cy="100.25" r="12" fill="url(#glowC)" opacity="0.189"/>
<circle cx="381.70" cy="100.25" r="12" fill="url(#glowC)" opacity="0.269"/>
<circle cx="410.20" cy="100.25" r="12" fill="url(#glowC)" opacity="0.366"/>
<circle cx="438.70" cy="100.25" r="12" fill="url(#glowC)" opacity="0.494"/>
<circle cx="467.20" cy="100.25" r="12" fill="url(#glowC)" opacity="0.738"/>
<circle cx="495.70" cy="100.25" r="12" fill="url(#glowC)" opacity="0.943"/>
<circle cx="524.20" cy="100.25" r="12" fill="url(#glowC)" opacity="1.000"/>
<circle cx="552.70" cy="100.25" r="12" fill="url(#glowC)" opacity="1.000"/>
<circle cx="338.95" cy="125.05" r="12" fill="url(#glowC)" opacity="0.114"/>
<circle cx="367.45" cy="125.05" r="12" fill="url(#glowC)" opacity="0.229"/>
<circle cx="395.95" cy="125.05" r="12" fill="url(#glowC)" opacity="0.309"/>
<circle cx="424.45" cy="125.05" r="12" fill="url(#glowC)" opacity="0.430"/>
<circle cx="452.95" cy="125.05" r="12" fill="url(#glowC)" opacity="0.614"/>
<circle cx="481.45" cy="125.05" r="12" fill="url(#glowC)" opacity="0.852"/>
<circle cx="509.95" cy="125.05" r="12" fill="url(#glowC)" opacity="1.000"/>
<circle cx="538.45" cy="125.05" r="12" fill="url(#glowC)" opacity="1.000"/>
<circle cx="566.95" cy="125.05" r="12" fill="url(#glowC)" opacity="1.000"/>
<circle cx="324.70" cy="149.85" r="12" fill="url(#glowC)" opacity="0.028"/>
<circle cx="353.20" cy="149.85" r="12" fill="url(#glowC)" opacity="0.189"/>
<circle cx="381.70" cy="149.85" r="12" fill="url(#glowC)" opacity="0.269"/>
<circle cx="410.20" cy="149.85" r="12" fill="url(#glowC)" opacity="0.366"/>
<circle cx="438.70" cy="149.85" r="12" fill="url(#glowC)" opacity="0.494"/>
<circle cx="467.20" cy="149.85" r="12" fill="url(#glowC)" opacity="0.738"/>
<circle cx="495.70" cy="149.85" r="12" fill="url(#glowC)" opacity="0.943"/>
<circle cx="524.20" cy="149.85" r="12" fill="url(#glowC)" opacity="1.000"/>
<circle cx="552.70" cy="149.85" r="12" fill="url(#glowC)" opacity="1.000"/>
<circle cx="338.95" cy="174.65" r="12" fill="url(#glowC)" opacity="0.114"/>
<circle cx="367.45" cy="174.65" r="12" fill="url(#glowC)" opacity="0.229"/>
<circle cx="395.95" cy="174.65" r="12" fill="url(#glowC)" opacity="0.309"/>
<circle cx="424.45" cy="174.65" r="12" fill="url(#glowC)" opacity="0.430"/>
<circle cx="452.95" cy="174.65" r="12" fill="url(#glowC)" opacity="0.614"/>
<circle cx="481.45" cy="174.65" r="12" fill="url(#glowC)" opacity="0.852"/>
<circle cx="509.95" cy="174.65" r="12" fill="url(#glowC)" opacity="1.000"/>
<circle cx="538.45" cy="174.65" r="12" fill="url(#glowC)" opacity="1.000"/>
<circle cx="566.95" cy="174.65" r="12" fill="url(#glowC)" opacity="1.000"/>
<circle cx="324.70" cy="199.45" r="12" fill="url(#glowC)" opacity="0.028"/>
<circle cx="353.20" cy="199.45" r="12" fill="url(#glowC)" opacity="0.189"/>
<circle cx="381.70" cy="199.45" r="12" fill="url(#glowC)" opacity="0.269"/>
<circle cx="410.20" cy="199.45" r="12" fill="url(#glowC)" opacity="0.366"/>
<circle cx="438.70" cy="199.45" r="12" fill="url(#glowC)" opacity="0.494"/>
<circle cx="467.20" cy="199.45" r="12" fill="url(#glowC)" opacity="0.738"/>
<circle cx="495.70" cy="199.45" r="12" fill="url(#glowC)" opacity="0.943"/>
<circle cx="524.20" cy="199.45" r="12" fill="url(#glowC)" opacity="1.000"/>
<circle cx="552.70" cy="199.45" r="12" fill="url(#glowC)" opacity="1.000"/>
<rect x="1.2" y="73.3" width="533.4" height="120.7" rx="8" ry="8" fill="none" stroke="url(#bordG)" stroke-width="2.2"/>
</g>
<!-- headings -->
<text transform="translate(-1.05,64.7) scale(1.05,1)" class="hl" font-size="22.3">Filled</text>
<text transform="translate(59.05,64.7) scale(1.05,1)" class="hl" font-size="22.3">States</text>
<text transform="translate(399.5,64.5) scale(1.05,1)" class="hl" font-size="22.3">Empty</text>
<text transform="translate(469.95,64.5) scale(1.05,1)" class="hl" font-size="22.3">States</text>
<!-- legend -->
<rect x="196.8" y="1.7" width="143.4" height="62.6" rx="6" ry="6" fill="#fff" stroke="#000" stroke-width="1.5"/>
<text transform="translate(228.7,23.3) scale(1.07,1)" class="hl" font-size="21.85">Legend</text>
<circle cx="216" cy="47.4" r="10.6" fill="#fff" stroke="#000" stroke-width="1.4"/>
<text x="233.05" y="52.7" class="hl" font-size="15.5">O</text><text x="245.8" y="46.3" class="hl" font-size="10">2−</text>
<circle cx="283.6" cy="47.6" r="9.4" fill="#000"/>
<text x="300.8" y="53.6" class="hl" font-size="15.5">Ce</text><text x="320.7" y="47.3" class="hl" font-size="10.5">4+</text>
<!-- divider -->
<path d="M57.50,218.20 L67.50,217.95 L80.00,217.65 L105.00,217.20 L130.00,216.85 L150.00,216.70 L177.50,216.65 L229.30,216.65 L229.30,220.95 L177.50,220.95 L150.00,220.90 L130.00,220.75 L105.00,220.40 L80.00,219.95 L67.50,219.65 L57.50,219.40 Z" fill="#000"/>
<path d="M478.50,218.20 L468.50,217.95 L456.00,217.65 L431.00,217.20 L406.00,216.85 L386.00,216.70 L358.50,216.65 L306.70,216.65 L306.70,220.95 L358.50,220.95 L386.00,220.90 L406.00,220.75 L431.00,220.40 L456.00,219.95 L468.50,219.65 L478.50,219.40 Z" fill="#000"/>
<g fill="none" stroke="#000" stroke-linecap="round">
<path stroke-width="1.5" d="M268,216.3 C262,213.5 254,211.8 246,212.6 C240,213.2 236.8,216.5 237.8,219.4 C238.8,222.6 243,223.6 248,223.3 C256,222.8 262,219.5 268,216.3 C275,212.5 282,210.5 288,210.8 C294,211.1 299,213.5 298.8,216.6 C298.6,219.6 294,221.2 289,221.3 C281,221.4 274,219 268,216.3 Z"/>
<path stroke-width="1.5" d="M253.1,218.3 C252,215.8 248,215.6 245.8,217.2 C243.5,219 243.6,222.6 246.5,224.8 C250,227 257,226.5 263,224.3 C270,221.8 277,217.5 284,215.3 C288,214.3 291.5,216.5 291.2,219.7 C290.8,223.5 286,225.4 281,224.8 C275,224 270,222 264,219.8"/>
<path stroke-width="1.1" d="M262.2,210.4 L271,215.6"/>
</g>
<circle cx="253.3" cy="218.6" r="1.2" fill="#000"/>
<g clip-path="url(#axclip)">
<path d="M19.3,244.3 L211.2,244.3 L211.20,244.50 C211.27,253.75 211.47,277.42 211.60,300.00 C211.73,322.58 211.83,362.50 212.00,380.00 C212.17,397.50 212.27,398.00 212.60,405.00 C212.93,412.00 213.47,417.33 214.00,422.00 C214.53,426.67 215.22,430.08 215.80,433.00 C216.38,435.92 216.88,438.00 217.50,439.50 C218.12,441.00 219.17,441.58 219.50,442.00 L19.3,442.7 Z" fill="#f1f1f1" stroke="#fff" stroke-width="4.2" stroke-linejoin="round"/>
<path d="M302.8,244.3 L302.80,244.50 C302.63,253.75 302.15,280.75 301.80,300.00 C301.45,319.25 301.02,345.00 300.70,360.00 C300.38,375.00 300.18,381.00 299.90,390.00 C299.62,399.00 299.45,407.00 299.00,414.00 C298.55,421.00 297.78,427.75 297.20,432.00 C296.62,436.25 296.20,437.83 295.50,439.50 C294.80,441.17 293.42,441.58 293.00,442.00 L373.5,442.0 L373.50,442.00 C373.17,441.83 372.08,441.83 371.50,441.00 C370.92,440.17 370.42,439.17 370.00,437.00 C369.58,434.83 369.30,432.50 369.00,428.00 C368.70,423.50 368.48,419.67 368.20,410.00 C367.92,400.33 367.60,388.33 367.30,370.00 C367.00,351.67 366.70,320.92 366.40,300.00 C366.10,279.08 365.65,253.75 365.50,244.50 L365.5,244.3 Z" fill="#f1f1f1" stroke="#fff" stroke-width="4.2" stroke-linejoin="round"/>
<path d="M459.2,244.3 L459.20,244.50 C459.10,252.08 458.82,276.58 458.60,290.00 C458.38,303.42 458.30,308.50 457.90,325.00 C457.50,341.50 456.72,374.83 456.20,389.00 C455.68,403.17 455.37,404.27 454.80,410.00 C454.23,415.73 453.52,419.57 452.80,423.40 C452.08,427.23 451.30,430.32 450.50,433.00 C449.70,435.68 449.00,438.00 448.00,439.50 C447.00,441.00 445.08,441.58 444.50,442.00 L532.7,442.7 L532.7,244.3 Z" fill="#f1f1f1" stroke="#fff" stroke-width="4.2" stroke-linejoin="round"/>
<path d="M19.80,437.60 C20.62,437.10 22.77,435.60 24.70,434.60 C26.63,433.60 29.17,432.07 31.40,431.60 C33.63,431.13 36.05,431.87 38.10,431.80 C40.15,431.73 41.83,432.07 43.70,431.20 C45.57,430.33 47.62,428.70 49.30,426.60 C50.98,424.50 52.48,421.17 53.80,418.60 C55.12,416.03 56.17,412.77 57.20,411.20 C58.23,409.63 59.07,409.30 60.00,409.20 C60.93,409.10 61.78,409.22 62.80,410.60 C63.82,411.98 65.08,415.57 66.10,417.50 C67.12,419.43 67.77,421.60 68.90,422.20 C70.03,422.80 71.88,421.32 72.90,421.10 C73.92,420.88 73.90,420.70 75.00,420.90 C76.10,421.10 78.00,421.60 79.50,422.30 C81.00,423.00 82.52,425.20 84.00,425.10 C85.48,425.00 87.10,422.45 88.40,421.70 C89.70,420.95 90.48,420.50 91.80,420.60 C93.12,420.70 94.82,421.73 96.30,422.30 C97.78,422.87 99.22,423.78 100.70,424.00 C102.18,424.22 104.03,423.72 105.20,423.60 C106.38,423.48 107.33,423.35 107.75,423.30 L107.75,442.7 L19.8,442.7 Z" fill="#000" stroke="#fff" stroke-width="1.3"/>
<path d="M19.80,440.60 C21.37,440.18 26.15,438.52 29.20,438.10 C32.25,437.68 35.12,438.28 38.10,438.10 C41.08,437.92 44.85,438.02 47.10,437.00 C49.35,435.98 50.10,433.87 51.60,432.00 C53.10,430.13 54.70,427.30 56.10,425.80 C57.50,424.30 58.70,423.10 60.00,423.00 C61.30,422.90 62.50,424.37 63.90,425.20 C65.30,426.03 66.90,428.00 68.40,428.00 C69.90,428.00 71.80,425.95 72.90,425.20 C74.00,424.45 73.90,423.32 75.00,423.50 C76.10,423.68 78.00,425.37 79.50,426.30 C81.00,427.23 82.52,429.10 84.00,429.10 C85.48,429.10 87.10,426.98 88.40,426.30 C89.70,425.62 90.48,424.90 91.80,425.00 C93.12,425.10 95.00,426.33 96.30,426.90 C97.60,427.47 98.30,428.30 99.60,428.40 C100.90,428.50 102.74,427.93 104.10,427.50 C105.46,427.07 107.14,426.08 107.75,425.80 L107.75,442.7 L19.8,442.7 Z" fill="#fff" stroke="#000" stroke-width="1"/>
<path d="M107.75,423.90 C108.12,423.88 108.89,423.88 110.00,423.75 C111.11,423.62 113.15,423.62 114.40,423.10 C115.65,422.58 116.36,421.85 117.50,420.60 C118.64,419.35 120.00,416.99 121.25,415.60 C122.50,414.21 123.54,413.18 125.00,412.25 C126.46,411.32 128.33,410.58 130.00,410.00 C131.67,409.42 133.75,408.75 135.00,408.75 C136.25,408.75 136.57,409.58 137.50,410.00 C138.43,410.42 139.56,411.67 140.60,411.25 C141.64,410.83 142.81,409.17 143.75,407.50 C144.69,405.83 145.31,403.75 146.25,401.25 C147.19,398.75 148.29,395.79 149.40,392.50 C150.51,389.21 151.72,385.25 152.90,381.50 C154.08,377.75 155.35,373.67 156.50,370.00 C157.65,366.33 158.42,362.97 159.80,359.50 C161.18,356.03 163.17,352.07 164.80,349.20 C166.43,346.33 168.00,343.82 169.60,342.30 C171.20,340.78 172.80,338.95 174.40,340.10 C176.00,341.25 177.60,344.80 179.20,349.20 C180.80,353.60 182.60,365.70 184.00,366.50 C185.40,367.30 186.20,358.40 187.60,354.00 C189.00,349.60 191.00,341.30 192.40,340.10 C193.80,338.90 195.00,342.48 196.00,346.80 C197.00,351.12 197.60,358.42 198.40,366.00 C199.20,373.58 200.00,383.92 200.80,392.30 C201.60,400.68 202.20,409.50 203.20,416.30 C204.20,423.10 205.62,429.10 206.80,433.10 C207.98,437.10 208.92,438.78 210.30,440.30 C211.68,441.82 214.30,441.88 215.10,442.20 L107.75,442.7 Z" fill="#fff" stroke="#fff" stroke-width="3"/>
<path d="M107.75,423.90 C108.12,423.88 108.89,423.88 110.00,423.75 C111.11,423.62 113.15,423.62 114.40,423.10 C115.65,422.58 116.36,421.85 117.50,420.60 C118.64,419.35 120.00,416.99 121.25,415.60 C122.50,414.21 123.54,413.18 125.00,412.25 C126.46,411.32 128.33,410.58 130.00,410.00 C131.67,409.42 133.75,408.75 135.00,408.75 C136.25,408.75 136.57,409.58 137.50,410.00 C138.43,410.42 139.56,411.67 140.60,411.25 C141.64,410.83 142.81,409.17 143.75,407.50 C144.69,405.83 145.31,403.75 146.25,401.25 C147.19,398.75 148.29,395.79 149.40,392.50 C150.51,389.21 151.72,385.25 152.90,381.50 C154.08,377.75 155.35,373.67 156.50,370.00 C157.65,366.33 158.42,362.97 159.80,359.50 C161.18,356.03 163.17,352.07 164.80,349.20 C166.43,346.33 168.00,343.82 169.60,342.30 C171.20,340.78 172.80,338.95 174.40,340.10 C176.00,341.25 177.60,344.80 179.20,349.20 C180.80,353.60 182.60,365.70 184.00,366.50 C185.40,367.30 186.20,358.40 187.60,354.00 C189.00,349.60 191.00,341.30 192.40,340.10 C193.80,338.90 195.00,342.48 196.00,346.80 C197.00,351.12 197.60,358.42 198.40,366.00 C199.20,373.58 200.00,383.92 200.80,392.30 C201.60,400.68 202.20,409.50 203.20,416.30 C204.20,423.10 205.62,429.10 206.80,433.10 C207.98,437.10 208.92,438.78 210.30,440.30 C211.68,441.82 214.30,441.88 215.10,442.20" fill="none" stroke="#000" stroke-width="1.45"/>
<path d="M107.75,425.60 C108.33,425.82 109.83,426.33 111.25,426.90 C112.67,427.47 114.58,429.11 116.25,429.00 C117.92,428.89 119.38,427.23 121.25,426.25 C123.12,425.27 125.62,423.89 127.50,423.10 C129.38,422.31 131.04,421.64 132.50,421.50 C133.96,421.36 135.00,421.71 136.25,422.25 C137.50,422.79 138.86,424.19 140.00,424.75 C141.14,425.31 141.85,425.77 143.10,425.60 C144.35,425.43 145.93,424.58 147.50,423.75 C149.07,422.92 150.83,421.74 152.50,420.60 C154.17,419.46 155.92,418.67 157.50,416.90 C159.08,415.13 160.38,412.10 162.00,410.00 C163.62,407.90 165.13,406.05 167.20,404.30 C169.27,402.55 172.40,399.50 174.40,399.50 C176.40,399.50 177.40,401.90 179.20,404.30 C181.00,406.70 183.40,412.38 185.20,413.90 C187.00,415.42 188.40,413.00 190.00,413.40 C191.60,413.80 193.20,414.22 194.80,416.30 C196.40,418.38 198.00,422.70 199.60,425.90 C201.20,429.10 202.82,433.02 204.40,435.50 C205.98,437.98 207.72,439.68 209.10,440.80 C210.48,441.92 212.10,441.97 212.70,442.20 L107.75,442.7 Z" fill="#000" stroke="#fff" stroke-width="1"/>
<rect x="107.2" y="425" width="1.1" height="17.2" fill="#000"/>
<path d="M312.60,244.50 C312.48,253.75 312.12,286.58 311.90,300.00 C311.68,313.42 311.60,315.00 311.30,325.00 C311.00,335.00 310.60,349.33 310.10,360.00 C309.60,370.67 308.77,381.50 308.30,389.00 C307.83,396.50 307.72,399.72 307.30,405.00 C306.88,410.28 306.42,416.37 305.80,420.70 C305.18,425.03 304.28,428.28 303.60,431.00 C302.92,433.72 302.37,435.42 301.70,437.00 C301.03,438.58 300.27,439.63 299.60,440.50 C298.93,441.37 298.02,441.92 297.70,442.20 L367.5,442.2 L367.50,442.20 C367.12,441.67 365.88,440.33 365.20,439.00 C364.52,437.67 363.87,435.70 363.40,434.20 C362.93,432.70 362.73,432.25 362.40,430.00 C362.07,427.75 361.78,429.03 361.40,420.70 C361.02,412.37 360.52,391.78 360.10,380.00 C359.68,368.22 359.35,363.33 358.90,350.00 C358.45,336.67 357.92,317.58 357.40,300.00 C356.88,282.42 356.07,253.75 355.80,244.50 Z" fill="#000" stroke="#fff" stroke-width="1.6"/>
<path d="M325.50,442.20 C326.25,441.78 328.42,440.98 330.00,439.70 C331.58,438.42 333.50,436.12 335.00,434.50 C336.50,432.88 337.68,431.17 339.00,430.00 C340.32,428.83 341.65,427.67 342.90,427.50 C344.15,427.33 345.32,428.17 346.50,429.00 C347.68,429.83 348.75,431.00 350.00,432.50 C351.25,434.00 352.58,436.47 354.00,438.00 C355.42,439.53 357.33,441.00 358.50,441.70 C359.67,442.40 360.58,442.12 361.00,442.20 Z" fill="#fff"/>
<path d="M455.00,442.20 C455.83,442.12 458.50,441.97 460.00,441.70 C461.50,441.43 462.75,441.10 464.00,440.60 C465.25,440.10 466.42,439.80 467.50,438.70 C468.58,437.60 469.48,436.00 470.50,434.00 C471.52,432.00 472.60,429.87 473.60,426.70 C474.60,423.53 475.50,419.53 476.50,415.00 C477.50,410.47 478.33,407.10 479.60,399.50 C480.87,391.90 482.60,379.95 484.10,369.40 C485.60,358.85 487.18,344.15 488.60,336.20 C490.02,328.25 491.43,324.62 492.60,321.70 C493.77,318.78 494.60,318.30 495.60,318.70 C496.60,319.10 497.50,320.68 498.60,324.10 C499.70,327.52 501.00,334.42 502.20,339.20 C503.40,343.98 504.92,350.42 505.80,352.80 C506.68,355.18 506.83,353.75 507.50,353.50 C508.17,353.25 508.77,350.17 509.80,351.30 C510.83,352.43 512.35,355.28 513.70,360.30 C515.05,365.32 516.65,375.87 517.90,381.40 C519.15,386.93 520.05,393.75 521.20,393.50 C522.35,393.25 523.53,384.68 524.80,379.90 C526.07,375.12 527.63,368.57 528.80,364.80 C529.97,361.03 531.30,358.55 531.80,357.30 L532.0,442.7 L455,442.7 Z" fill="#000" stroke="#fff" stroke-width="1.6"/>
<path d="M470.00,442.20 C470.67,441.92 472.15,442.08 474.00,440.50 C475.85,438.92 479.10,434.45 481.10,432.70 C483.10,430.95 484.48,430.60 486.00,430.00 C487.52,429.40 488.87,429.22 490.20,429.10 C491.53,428.98 492.75,429.10 494.00,429.30 C495.25,429.50 496.20,429.72 497.70,430.30 C499.20,430.88 501.23,431.90 503.00,432.80 C504.77,433.70 506.63,434.83 508.30,435.70 C509.97,436.57 511.50,437.40 513.00,438.00 C514.50,438.60 515.47,439.05 517.30,439.30 C519.13,439.55 521.58,439.63 524.00,439.50 C526.42,439.37 530.50,438.67 531.80,438.50 L532.0,442.7 Z" fill="#fff"/>
<path d="M211.20,244.50 C211.27,253.75 211.47,277.42 211.60,300.00 C211.73,322.58 211.83,362.50 212.00,380.00 C212.17,397.50 212.27,398.00 212.60,405.00 C212.93,412.00 213.47,417.33 214.00,422.00 C214.53,426.67 215.22,430.08 215.80,433.00 C216.38,435.92 216.88,438.00 217.50,439.50 C218.12,441.00 219.17,441.58 219.50,442.00" fill="none" stroke="#000" stroke-width="1.8" stroke-dasharray="5.2 4.4"/>
<path d="M302.80,244.50 C302.63,253.75 302.15,280.75 301.80,300.00 C301.45,319.25 301.02,345.00 300.70,360.00 C300.38,375.00 300.18,381.00 299.90,390.00 C299.62,399.00 299.45,407.00 299.00,414.00 C298.55,421.00 297.78,427.75 297.20,432.00 C296.62,436.25 296.20,437.83 295.50,439.50 C294.80,441.17 293.42,441.58 293.00,442.00" fill="none" stroke="#000" stroke-width="1.8" stroke-dasharray="5.2 4.4"/>
<path d="M365.50,244.50 C365.65,253.75 366.10,279.08 366.40,300.00 C366.70,320.92 367.00,351.67 367.30,370.00 C367.60,388.33 367.92,400.33 368.20,410.00 C368.48,419.67 368.70,423.50 369.00,428.00 C369.30,432.50 369.58,434.83 370.00,437.00 C370.42,439.17 370.92,440.17 371.50,441.00 C372.08,441.83 373.17,441.83 373.50,442.00" fill="none" stroke="#000" stroke-width="1.8" stroke-dasharray="5.2 4.4"/>
<path d="M459.20,244.50 C459.10,252.08 458.82,276.58 458.60,290.00 C458.38,303.42 458.30,308.50 457.90,325.00 C457.50,341.50 456.72,374.83 456.20,389.00 C455.68,403.17 455.37,404.27 454.80,410.00 C454.23,415.73 453.52,419.57 452.80,423.40 C452.08,427.23 451.30,430.32 450.50,433.00 C449.70,435.68 449.00,438.00 448.00,439.50 C447.00,441.00 445.08,441.58 444.50,442.00" fill="none" stroke="#000" stroke-width="1.8" stroke-dasharray="5.2 4.4"/>
</g>
<rect x="20.0" y="245.0" width="512.0" height="197.7" fill="none" stroke="#000" stroke-width="1.45"/>
<line x1="19.80" y1="442.7" x2="19.80" y2="438.0" stroke="#000" stroke-width="1"/>
<line x1="19.80" y1="245.0" x2="19.80" y2="249.7" stroke="#000" stroke-width="1"/>
<line x1="71.00" y1="442.7" x2="71.00" y2="438.0" stroke="#000" stroke-width="1"/>
<line x1="71.00" y1="245.0" x2="71.00" y2="249.7" stroke="#000" stroke-width="1"/>
<line x1="122.20" y1="442.7" x2="122.20" y2="438.0" stroke="#000" stroke-width="1"/>
<line x1="122.20" y1="245.0" x2="122.20" y2="249.7" stroke="#000" stroke-width="1"/>
<line x1="173.40" y1="442.7" x2="173.40" y2="438.0" stroke="#000" stroke-width="1"/>
<line x1="173.40" y1="245.0" x2="173.40" y2="249.7" stroke="#000" stroke-width="1"/>
<line x1="224.60" y1="442.7" x2="224.60" y2="438.0" stroke="#000" stroke-width="1"/>
<line x1="224.60" y1="245.0" x2="224.60" y2="249.7" stroke="#000" stroke-width="1"/>
<line x1="275.80" y1="442.7" x2="275.80" y2="438.0" stroke="#000" stroke-width="1"/>
<line x1="275.80" y1="245.0" x2="275.80" y2="249.7" stroke="#000" stroke-width="1"/>
<line x1="327.00" y1="442.7" x2="327.00" y2="438.0" stroke="#000" stroke-width="1"/>
<line x1="327.00" y1="245.0" x2="327.00" y2="249.7" stroke="#000" stroke-width="1"/>
<line x1="378.20" y1="442.7" x2="378.20" y2="438.0" stroke="#000" stroke-width="1"/>
<line x1="378.20" y1="245.0" x2="378.20" y2="249.7" stroke="#000" stroke-width="1"/>
<line x1="429.40" y1="442.7" x2="429.40" y2="438.0" stroke="#000" stroke-width="1"/>
<line x1="429.40" y1="245.0" x2="429.40" y2="249.7" stroke="#000" stroke-width="1"/>
<line x1="480.60" y1="442.7" x2="480.60" y2="438.0" stroke="#000" stroke-width="1"/>
<line x1="480.60" y1="245.0" x2="480.60" y2="249.7" stroke="#000" stroke-width="1"/>
<line x1="531.80" y1="442.7" x2="531.80" y2="438.0" stroke="#000" stroke-width="1"/>
<line x1="531.80" y1="245.0" x2="531.80" y2="249.7" stroke="#000" stroke-width="1"/>
<text transform="translate(20.10,457.20) scale(0.970,1)" text-anchor="middle" class="mpl" font-size="14.0">−5</text>
<text transform="translate(71.30,457.20) scale(0.970,1)" text-anchor="middle" class="mpl" font-size="14.0">−4</text>
<text transform="translate(122.50,457.20) scale(0.970,1)" text-anchor="middle" class="mpl" font-size="14.0">−3</text>
<text transform="translate(173.70,457.20) scale(0.970,1)" text-anchor="middle" class="mpl" font-size="14.0">−2</text>
<text transform="translate(224.90,457.20) scale(0.970,1)" text-anchor="middle" class="mpl" font-size="14.0">−1</text>
<text transform="translate(276.10,457.20) scale(0.970,1)" text-anchor="middle" class="mpl" font-size="14.0">0</text>
<text transform="translate(327.30,457.20) scale(0.970,1)" text-anchor="middle" class="mpl" font-size="14.0">1</text>
<text transform="translate(378.50,457.20) scale(0.970,1)" text-anchor="middle" class="mpl" font-size="14.0">2</text>
<text transform="translate(429.70,457.20) scale(0.970,1)" text-anchor="middle" class="mpl" font-size="14.0">3</text>
<text transform="translate(480.90,457.20) scale(0.970,1)" text-anchor="middle" class="mpl" font-size="14.0">4</text>
<text transform="translate(532.10,457.20) scale(0.970,1)" text-anchor="middle" class="mpl" font-size="14.0">5</text>
<text transform="translate(235.55,476.40) scale(1.000,1)" text-anchor="start" class="mpl" font-size="13.9">Energy (eV)</text>
<text transform="translate(11.3,342.8) rotate(-90) scale(1.024,1)" text-anchor="middle" class="mpl" font-size="13.28">Density of States (Arb. Units)</text>
<rect x="28.3" y="253.1" width="164.3" height="63" fill="#fff" stroke="#000" stroke-width="1.1"/>
<rect x="33.5" y="259.1" width="26.9" height="9.2" fill="#ececec"/>
<path d="M33.5,259.1 H40.6 M47.4,259.1 H53.6 M33.5,268.3 H40.4 M47.4,268.3 H53.6 M33.5,259.1 V264 M33.5,266.6 V268.3 M60.4,261.8 V267.2" stroke="#000" stroke-width="1.2" fill="none"/>
<rect x="33.2" y="278.7" width="27.4" height="9.9" fill="#000"/>
<rect x="33.7" y="298.9" width="26.8" height="9.2" fill="#fff" stroke="#000" stroke-width="1.1"/>
<text transform="translate(71.40,268.60) scale(1.050,1)" text-anchor="start" class="mpl" font-size="13.8">Total</text>
<text transform="translate(71.30,288.00) scale(0.980,1)" text-anchor="start" class="mpl" font-size="13.8">Surface</text>
<text transform="translate(126.90,288.00) scale(0.990,1)" text-anchor="start" class="mpl" font-size="13.8">Ce</text>
<text transform="translate(145.25,284.40) scale(1.000,1)" text-anchor="start" class="mps" font-size="9.6">4</text>
<text transform="translate(151.20,284.90) scale(1.500,1)" text-anchor="start" class="mps" font-size="10.5">+</text>
<text transform="translate(165.55,288.00) scale(1.000,1)" text-anchor="start" class="mpl" font-size="13.8">ion</text>
<text transform="translate(71.30,307.70) scale(0.980,1)" text-anchor="start" class="mpl" font-size="13.8">Surface</text>
<text transform="translate(127.05,307.70) scale(1.000,1)" text-anchor="start" class="mpl" font-size="13.8">O</text>
<text transform="translate(137.70,303.40) scale(1.200,1)" text-anchor="start" class="mps" font-size="9.6">2</text>
<text transform="translate(144.85,303.60) scale(1.290,1)" text-anchor="start" class="mps" font-size="9.6">−</text>
<text transform="translate(158.56,307.70) scale(0.990,1)" text-anchor="start" class="mpl" font-size="13.8">ion</text>
</svg>
</body></html>
